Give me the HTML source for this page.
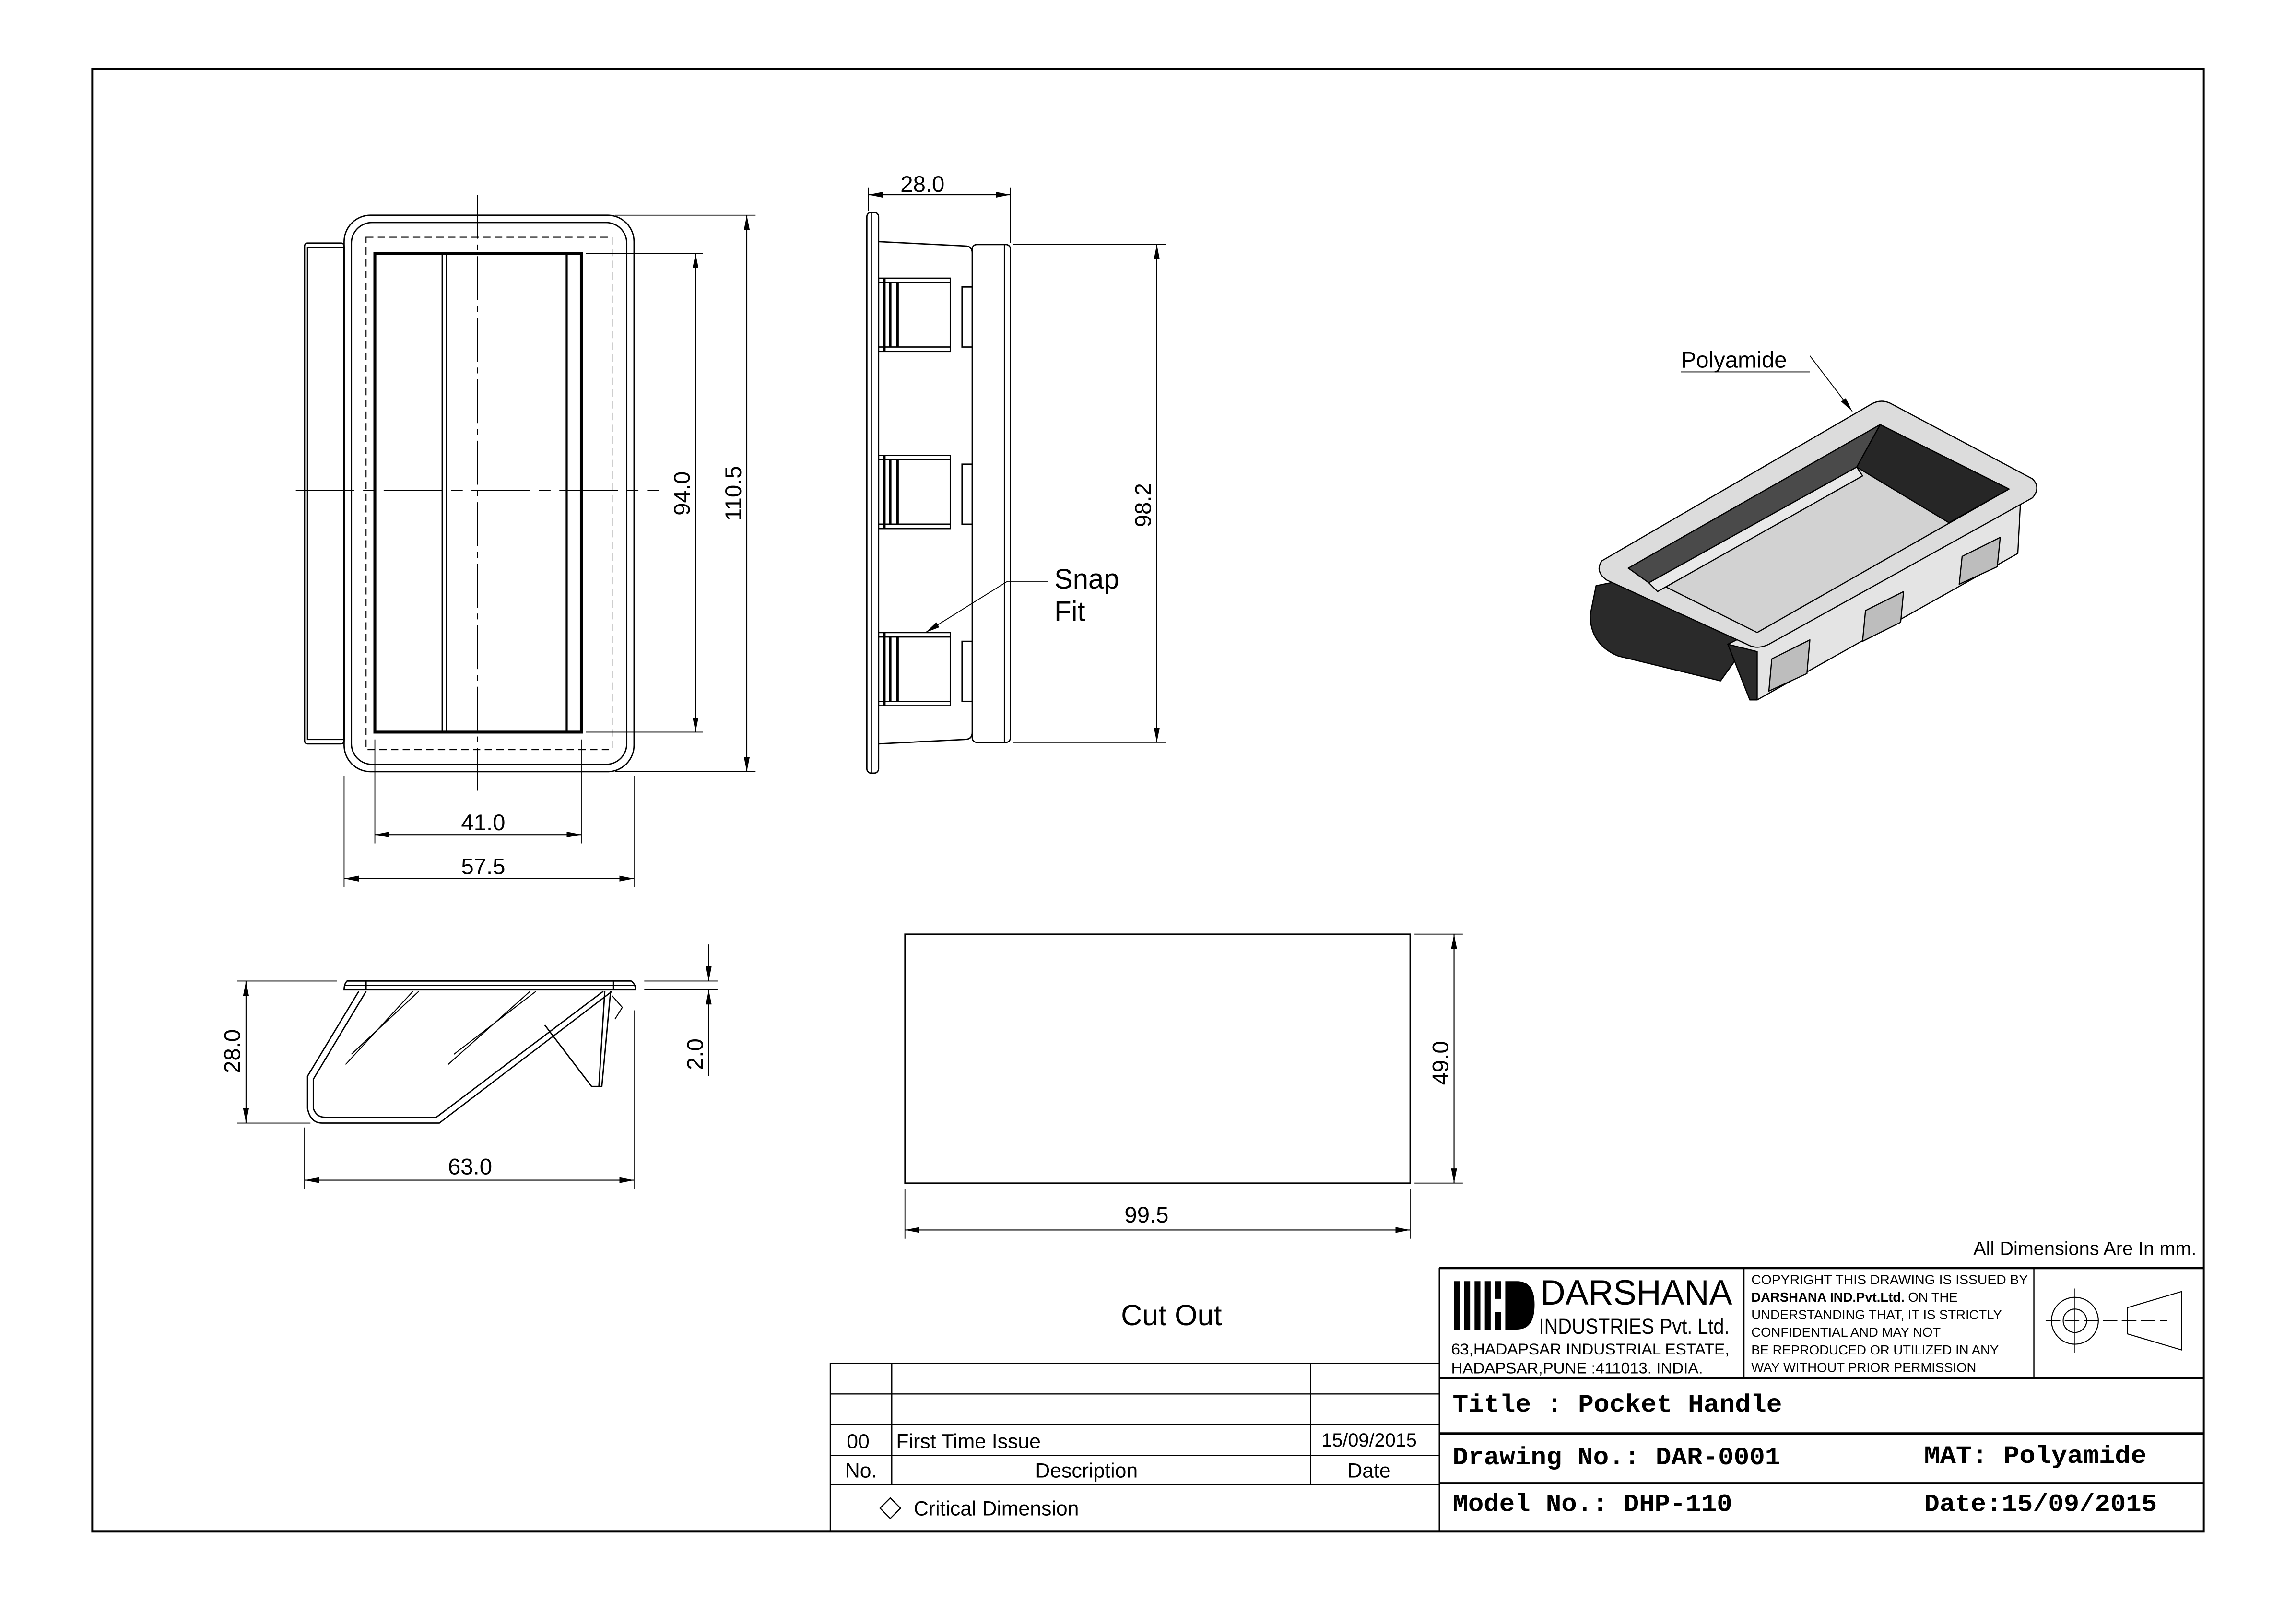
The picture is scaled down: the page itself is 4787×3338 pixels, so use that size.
<!DOCTYPE html>
<html><head><meta charset="utf-8"><style>
html,body{margin:0;padding:0;background:#fff;}
svg{display:block;}
text{font-family:"Liberation Sans",sans-serif;fill:#000;}
.m{font-family:"Liberation Mono",monospace;font-weight:bold;}
</style></head><body>
<svg width="4787" height="3338" viewBox="0 0 1568 1093.4" preserveAspectRatio="none" xmlns="http://www.w3.org/2000/svg">
<defs>
<marker id="a" viewBox="0 0 10 4" refX="10" refY="2" markerWidth="10" markerHeight="4" markerUnits="userSpaceOnUse" orient="auto-start-reverse"><path d="M0,0 L10,2 L0,4 z" fill="#000"/></marker>
</defs>
<rect x="0" y="0" width="1568" height="1094" fill="#fff"/>
<rect x="63" y="47" width="1442" height="999" fill="none" stroke="#000" stroke-width="1.3"/>

<g fill="none" stroke="#000" stroke-width="0.9">
<!-- FRONT VIEW -->
<rect x="208" y="166" width="27" height="342" rx="2"/>
<rect x="210" y="169" width="25" height="336"/>
<rect x="235" y="147" width="198" height="380" rx="18"/>
<rect x="240" y="152" width="188" height="370" rx="14"/>
<rect x="250" y="162" width="168" height="350" stroke-dasharray="5,3" stroke-width="0.7"/>
<rect x="256" y="173" width="141" height="327" stroke-width="2"/>
<line x1="302" y1="173" x2="302" y2="500"/><line x1="305" y1="173" x2="305" y2="500"/>
<line x1="387" y1="173" x2="387" y2="500" stroke-width="1.4"/>
<line x1="326" y1="133" x2="326" y2="540" stroke-dasharray="30,4,4,4" stroke-width="0.7"/>
<line x1="202" y1="335" x2="450" y2="335" stroke-dasharray="40,6,8,6" stroke-width="0.7"/>
<!-- dims front -->
<line x1="400" y1="173" x2="480" y2="173" stroke-width="0.6"/>
<line x1="400" y1="500" x2="480" y2="500" stroke-width="0.6"/>
<line x1="475" y1="173" x2="475" y2="500" stroke-width="0.7" marker-start="url(#a)" marker-end="url(#a)"/>
<line x1="420" y1="147" x2="516" y2="147" stroke-width="0.6"/>
<line x1="420" y1="527" x2="516" y2="527" stroke-width="0.6"/>
<line x1="510" y1="147" x2="510" y2="527" stroke-width="0.7" marker-start="url(#a)" marker-end="url(#a)"/>
<line x1="256" y1="505" x2="256" y2="576" stroke-width="0.6"/>
<line x1="397" y1="505" x2="397" y2="576" stroke-width="0.6"/>
<line x1="256" y1="570" x2="397" y2="570" stroke-width="0.7" marker-start="url(#a)" marker-end="url(#a)"/>
<line x1="235" y1="530" x2="235" y2="606" stroke-width="0.6"/>
<line x1="433" y1="530" x2="433" y2="606" stroke-width="0.6"/>
<line x1="235" y1="600" x2="433" y2="600" stroke-width="0.7" marker-start="url(#a)" marker-end="url(#a)"/>

<!-- SIDE VIEW -->
<rect x="592" y="145" width="8" height="383" rx="3"/>
<line x1="595" y1="145" x2="595" y2="528"/>
<path d="M600,165 L659,168 Q664,168 664,173 L664,500 Q664,505 659,505 L600,508"/>
<rect x="664" y="167" width="26" height="340" rx="3"/>
<line x1="686" y1="167" x2="686" y2="507"/>
<g>
<rect x="600" y="190" width="49" height="50"/><line x1="600" y1="193" x2="649" y2="193"/><line x1="600" y1="237" x2="649" y2="237"/>
<line x1="604" y1="190" x2="604" y2="240" stroke-width="1.6"/><line x1="608" y1="193" x2="608" y2="237" stroke-width="1.6"/><line x1="613" y1="193" x2="613" y2="237" stroke-width="1.6"/>
<rect x="657" y="196" width="7" height="41"/>
</g>
<g transform="translate(0,121)">
<rect x="600" y="190" width="49" height="50"/><line x1="600" y1="193" x2="649" y2="193"/><line x1="600" y1="237" x2="649" y2="237"/>
<line x1="604" y1="190" x2="604" y2="240" stroke-width="1.6"/><line x1="608" y1="193" x2="608" y2="237" stroke-width="1.6"/><line x1="613" y1="193" x2="613" y2="237" stroke-width="1.6"/>
<rect x="657" y="196" width="7" height="41"/>
</g>
<g transform="translate(0,242)">
<rect x="600" y="190" width="49" height="50"/><line x1="600" y1="193" x2="649" y2="193"/><line x1="600" y1="237" x2="649" y2="237"/>
<line x1="604" y1="190" x2="604" y2="240" stroke-width="1.6"/><line x1="608" y1="193" x2="608" y2="237" stroke-width="1.6"/><line x1="613" y1="193" x2="613" y2="237" stroke-width="1.6"/>
<rect x="657" y="196" width="7" height="41"/>
</g>
<polyline points="716,397 688,397 632,432" stroke-width="0.6" marker-end="url(#a)"/>
<line x1="593" y1="128" x2="593" y2="144" stroke-width="0.6"/>
<line x1="690" y1="128" x2="690" y2="166" stroke-width="0.6"/>
<line x1="593" y1="133" x2="690" y2="133" stroke-width="0.7" marker-start="url(#a)" marker-end="url(#a)"/>
<line x1="692" y1="167" x2="796" y2="167" stroke-width="0.6"/>
<line x1="692" y1="507" x2="796" y2="507" stroke-width="0.6"/>
<line x1="790" y1="167" x2="790" y2="507" stroke-width="0.7" marker-start="url(#a)" marker-end="url(#a)"/>

<!-- BOTTOM VIEW -->
<path d="M237,670 L431,670 Q434,672 434,676 L235,676 Q235,672 237,670 Z"/>
<line x1="235" y1="673" x2="434" y2="673"/>
<line x1="250" y1="670" x2="250" y2="676"/><line x1="419" y1="670" x2="419" y2="676"/>
<path d="M245,677 L210,735 L210,757 Q212,767 220,767 L300,767 L418,677"/>
<path d="M250,677 L214,737 L214,757 Q216,763 222,763 L298,763 L412,677"/>
<path d="M282,677 L236,727 M286,677 L240,720 M362,677 L306,727 M366,677 L310,720" stroke-width="0.7"/>
<path d="M372,700 L404,742 L411,742 L417,677 M413,677 L409,742"/>
<path d="M418,680 L425,688 L420,696" stroke-width="0.7"/>
<line x1="162" y1="670" x2="230" y2="670" stroke-width="0.6"/>
<line x1="162" y1="767" x2="212" y2="767" stroke-width="0.6"/>
<line x1="168" y1="670" x2="168" y2="767" stroke-width="0.7" marker-start="url(#a)" marker-end="url(#a)"/>
<line x1="208" y1="770" x2="208" y2="812" stroke-width="0.6"/>
<line x1="433" y1="690" x2="433" y2="812" stroke-width="0.6"/>
<line x1="208" y1="806" x2="433" y2="806" stroke-width="0.7" marker-start="url(#a)" marker-end="url(#a)"/>
<line x1="440" y1="670" x2="490" y2="670" stroke-width="0.6"/>
<line x1="440" y1="676" x2="490" y2="676" stroke-width="0.6"/>
<line x1="484" y1="645" x2="484" y2="670" stroke-width="0.7" marker-end="url(#a)"/>
<line x1="484" y1="698" x2="484" y2="676" stroke-width="0.7" marker-end="url(#a)"/>
<line x1="484" y1="676" x2="484" y2="735" stroke-width="0.7"/>

<!-- CUT OUT -->
<rect x="618" y="638" width="345" height="170"/>
<line x1="966" y1="638" x2="999" y2="638" stroke-width="0.6"/>
<line x1="966" y1="808" x2="999" y2="808" stroke-width="0.6"/>
<line x1="993" y1="638" x2="993" y2="808" stroke-width="0.7" marker-start="url(#a)" marker-end="url(#a)"/>
<line x1="618" y1="812" x2="618" y2="846" stroke-width="0.6"/>
<line x1="963" y1="812" x2="963" y2="846" stroke-width="0.6"/>
<line x1="618" y1="840" x2="963" y2="840" stroke-width="0.7" marker-start="url(#a)" marker-end="url(#a)"/>
</g>

<!-- 3D VIEW -->
<g stroke="#000" stroke-width="0.8" stroke-linejoin="round">
<path d="M1090,400 L1140,390 L1200,430 L1175,465 L1105,448 Q1086,440 1086,420 Z" fill="#2a2a2a"/>
<path d="M1180,440 L1380,340 L1378,378 L1200,478 Z" fill="#e4e4e4"/>
<path d="M1180,440 L1200,445 L1200,478 L1195,478 Z" fill="#2a2a2a"/>
<path d="M1094,383 L1278,276 Q1285,272 1292,276 L1388,327 Q1394,333 1388,340 L1208,440 Q1200,444 1193,440 L1097,396 Q1089,390 1094,383 Z" fill="#dcdcdc"/>
<path d="M1112,388 L1284,290 L1372,334 L1200,432 Z" fill="#d2d2d2"/>
<path d="M1284,290 L1372,334 L1331,357 L1268,319 Z" fill="#262626"/>
<path d="M1112,388 L1284,290 L1268,319 L1126,398 Z" fill="#4a4a4a"/>
<path d="M1126,398 L1268,319 L1272,325 L1132,404 Z" fill="#e9e9e9"/>
<g fill="#bdbdbd">
<path d="M1210,450 L1236,437 L1234,460 L1208,472 Z"/>
<path d="M1274,417 L1300,404 L1298,425 L1272,438 Z"/>
<path d="M1340,380 L1366,367 L1364,387 L1338,399 Z"/>
</g>
<line x1="1236" y1="243" x2="1265" y2="281" stroke-width="0.6" marker-end="url(#a)"/>
</g>
<line x1="1148" y1="254" x2="1236" y2="254" stroke="#000" stroke-width="0.6"/>

<!-- TEXT -->
<g font-size="15.5">
<text x="630" y="131" text-anchor="middle">28.0</text>
<text x="330" y="567" text-anchor="middle">41.0</text>
<text x="330" y="597" text-anchor="middle">57.5</text>
<text x="321" y="802" text-anchor="middle">63.0</text>
<text x="783" y="835" text-anchor="middle">99.5</text>
<text transform="translate(471,337) rotate(-90)" text-anchor="middle">94.0</text>
<text transform="translate(506,337) rotate(-90)" text-anchor="middle">110.5</text>
<text transform="translate(786,345) rotate(-90)" text-anchor="middle">98.2</text>
<text transform="translate(164,718) rotate(-90)" text-anchor="middle">28.0</text>
<text transform="translate(480,720) rotate(-90)" text-anchor="middle">2.0</text>
<text transform="translate(989,726) rotate(-90)" text-anchor="middle">49.0</text>
<text x="1148" y="251">Polyamide</text>
</g>
<text x="720" y="402" font-size="19">Snap</text>
<text x="720" y="424" font-size="19">Fit</text>
<text x="800" y="905" font-size="20" text-anchor="middle">Cut Out</text>
<text x="1500" y="857" font-size="13" text-anchor="end">All Dimensions Are In mm.</text>

<!-- TITLE BLOCK -->
<g fill="none" stroke="#000">
<line x1="983" y1="866" x2="1505" y2="866" stroke-width="1.6"/>
<line x1="983" y1="866" x2="983" y2="1046" stroke-width="1"/>
<line x1="1191" y1="866" x2="1191" y2="941" stroke-width="0.8"/>
<line x1="1389" y1="866" x2="1389" y2="941" stroke-width="0.8"/>
<line x1="983" y1="941" x2="1505" y2="941" stroke-width="1.6"/>
<line x1="983" y1="979" x2="1505" y2="979" stroke-width="1.6"/>
<line x1="983" y1="1013" x2="1505" y2="1013" stroke-width="1.6"/>
<rect x="567" y="931" width="416" height="115" stroke-width="0.8"/>
<line x1="567" y1="952" x2="983" y2="952" stroke-width="0.8"/>
<line x1="567" y1="973" x2="983" y2="973" stroke-width="0.8"/>
<line x1="567" y1="994" x2="983" y2="994" stroke-width="0.8"/>
<line x1="567" y1="1014" x2="983" y2="1014" stroke-width="0.8"/>
<line x1="609" y1="931" x2="609" y2="1014" stroke-width="0.8"/>
<line x1="895" y1="931" x2="895" y2="1014" stroke-width="0.8"/>
<path d="M608,1023 L615,1030 L608,1037 L601,1030 Z" stroke-width="0.8"/>
<circle cx="1417" cy="902" r="16" stroke-width="0.7"/>
<circle cx="1417" cy="902" r="8" stroke-width="0.7"/>
<line x1="1397" y1="902" x2="1480" y2="902" stroke-width="0.7" stroke-dasharray="10,3"/>
<line x1="1417" y1="880" x2="1417" y2="924" stroke-width="0.5"/>
<path d="M1453,893 L1490,882 L1490,922 L1453,911 Z" stroke-width="0.7"/>
</g>
<g fill="#000">
<rect x="993" y="875" width="4" height="33"/>
<rect x="1000" y="875" width="4" height="33"/>
<rect x="1007" y="875" width="4" height="33"/>
<rect x="1014" y="875" width="4" height="33"/>
<rect x="1021" y="875" width="4" height="12"/><rect x="1021" y="896" width="4" height="12"/>
<path d="M1028,875 L1036,875 Q1048,875 1048,891 Q1048,908 1036,908 L1028,908 Z"/>
</g>
<text x="1052" y="891" font-size="24" textLength="131" lengthAdjust="spacingAndGlyphs">DARSHANA</text>
<text x="1051" y="911" font-size="15" textLength="130" lengthAdjust="spacingAndGlyphs">INDUSTRIES Pvt. Ltd.</text>
<text x="991" y="925" font-size="10.5" textLength="190" lengthAdjust="spacingAndGlyphs">63,HADAPSAR INDUSTRIAL ESTATE,</text>
<text x="991" y="938" font-size="10.5" textLength="172" lengthAdjust="spacingAndGlyphs">HADAPSAR,PUNE :411013. INDIA.</text>
<g font-size="9">
<text x="1196" y="877" textLength="189" lengthAdjust="spacingAndGlyphs">COPYRIGHT THIS DRAWING IS ISSUED BY</text>
<text x="1196" y="889"><tspan font-weight="bold">DARSHANA IND.Pvt.Ltd.</tspan> ON THE</text>
<text x="1196" y="901">UNDERSTANDING THAT, IT IS STRICTLY</text>
<text x="1196" y="913">CONFIDENTIAL AND MAY NOT</text>
<text x="1196" y="925">BE REPRODUCED OR UTILIZED IN ANY</text>
<text x="1196" y="937">WAY WITHOUT PRIOR PERMISSION</text>
</g>
<g font-size="17">
<text x="992" y="964" class="m" textLength="225" lengthAdjust="spacingAndGlyphs">Title : Pocket Handle</text>
<text x="992" y="1000" class="m" textLength="224" lengthAdjust="spacingAndGlyphs">Drawing No.: DAR-0001</text>
<text x="1314" y="999" class="m" textLength="152" lengthAdjust="spacingAndGlyphs">MAT: Polyamide</text>
<text x="992" y="1032" class="m" textLength="191" lengthAdjust="spacingAndGlyphs">Model No.: DHP-110</text>
<text x="1314" y="1032" class="m" textLength="159" lengthAdjust="spacingAndGlyphs">Date:15/09/2015</text>
</g>
<g font-size="14">
<text x="586" y="989" text-anchor="middle">00</text>
<text x="612" y="989">First Time Issue</text>
<text x="935" y="988" text-anchor="middle" font-size="13">15/09/2015</text>
<text x="588" y="1009" text-anchor="middle">No.</text>
<text x="742" y="1009" text-anchor="middle">Description</text>
<text x="935" y="1009" text-anchor="middle">Date</text>
<text x="624" y="1035">Critical Dimension</text>
</g>
</svg>
</body></html>
